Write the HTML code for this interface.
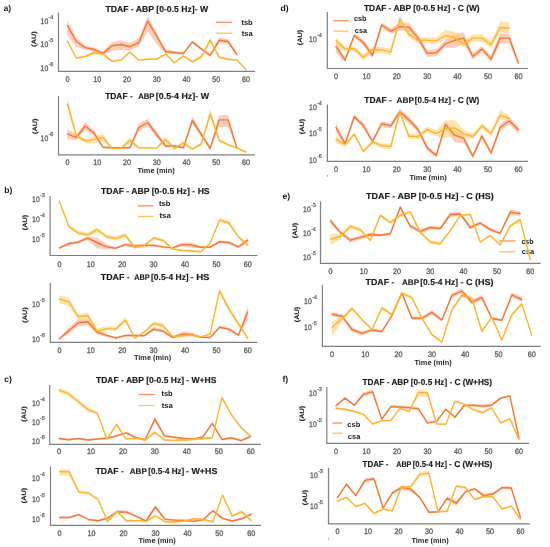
<!DOCTYPE html>
<html><head><meta charset="utf-8"><style>
html,body{margin:0;padding:0;background:#fff;width:550px;height:547px;overflow:hidden}
svg{display:block}
text{font-family:"Liberation Sans",sans-serif;text-rendering:geometricPrecision}
.tk{font-size:8.0px;fill:#585858;stroke:#585858;stroke-width:0.3px}
.ex{font-size:5.6px;fill:#585858;stroke:#585858;stroke-width:0.2px}
.au{font-size:6.4px;font-weight:bold;fill:#2a2a2a;stroke:#2a2a2a;stroke-width:0.15px}
.ti{font-size:8.6px;font-weight:bold;fill:#1a1a1a;stroke:#1a1a1a;stroke-width:0.15px}
.ti2{font-size:8.1px;font-weight:bold;fill:#1a1a1a;stroke:#1a1a1a;stroke-width:0.15px}
.lg{font-size:7.6px;font-weight:bold;fill:#1a1a1a}
.xl{font-size:7.4px;font-weight:bold;fill:#2a2a2a}
.pl{font-size:8.6px;font-weight:bold;fill:#1a1a1a}
</style></head><body>
<svg width="550" height="547" viewBox="0 0 550 547">
<defs><filter id="bl" x="0" y="0" width="1" height="1" color-interpolation-filters="sRGB"><feGaussianBlur stdDeviation="0.38"/></filter></defs>
<rect width="550" height="547" fill="#fff"/>
<g filter="url(#bl)">
<rect width="550" height="547" fill="#fff"/>
<g id="a1"><text x="241.8" y="36.3" class="lg" textLength="10.9" lengthAdjust="spacingAndGlyphs">tsa</text><text x="241.4" y="24.5" class="lg" textLength="11.3" lengthAdjust="spacingAndGlyphs">tsb</text><line x1="216.2" y1="33.2" x2="232" y2="33.2" stroke="#FDB52F" stroke-width="1.3" stroke-opacity="0.8"/><line x1="216.2" y1="22.3" x2="232" y2="22.3" stroke="#F8762F" stroke-width="1.3" stroke-opacity="0.8"/><polygon points="67.4,19.9 76.33,37.5 85.25,45.4 94.18,47.5 103.1,51.4 112.03,41.9 120.95,40.3 129.88,43 138.8,38.1 147.73,16.2 156.65,33.2 165.57,49.1 174.5,51 183.43,51.9 192.35,40.4 201.28,47.2 210.2,54 219.12,37.8 228.05,39 236.98,53.1 236.98,56.1 228.05,44 219.12,42.8 210.2,57 201.28,50.2 192.35,43.4 183.43,54.9 174.5,54 165.57,53.5 156.65,44.2 147.73,31.2 138.8,46 129.88,50.6 120.95,50 112.03,50.7 103.1,55.4 94.18,51.5 85.25,49.8 76.33,46.7 67.4,35.2" fill="#F6A487" fill-opacity="0.55"/><polygon points="67.4,40 76.33,57 85.25,55.5 94.18,50.5 103.1,52 112.03,60.4 120.95,59.1 129.88,51.3 138.8,59.1 147.73,58.3 156.65,58.3 165.57,53 174.5,61.7 183.43,54.9 192.35,60.8 201.28,54.8 210.2,37.8 219.12,56.2 228.05,58.3 236.98,59.1 245.9,68.5 245.9,70.5 236.98,61.1 228.05,60.3 219.12,58.2 210.2,42.8 201.28,58.8 192.35,62.8 183.43,56.9 174.5,63.7 165.57,55 156.65,60.3 147.73,60.3 138.8,61.1 129.88,53.3 120.95,61.1 112.03,62.4 103.1,56 94.18,54.5 85.25,57.5 76.33,59 67.4,42" fill="#FCD27A" fill-opacity="0.6"/><polyline points="67.4,25.6 76.33,41.5 85.25,47.6 94.18,49.5 103.1,53.4 112.03,45.7 120.95,44.5 129.88,46.8 138.8,42.5 147.73,21.2 156.65,36.2 165.57,51.7 174.5,52.5 183.43,53.4 192.35,41.9 201.28,48.7 210.2,55.5 219.12,40.3 228.05,41.5 236.98,54.6" fill="none" stroke="#F8762F" stroke-width="1.4" stroke-linejoin="round" stroke-linecap="round"/><polyline points="67.4,41 76.33,58 85.25,56.5 94.18,52.5 103.1,54 112.03,61.4 120.95,60.1 129.88,52.3 138.8,60.1 147.73,59.3 156.65,59.3 165.57,54 174.5,62.7 183.43,55.9 192.35,61.8 201.28,56.8 210.2,40.3 219.12,57.2 228.05,59.3 236.98,60.1 245.9,69.5" fill="none" stroke="#FDB52F" stroke-width="1.4" stroke-linejoin="round" stroke-linecap="round"/><path d="M58.5,12.5 V71.4 H255" fill="none" stroke="#7f7f7f" stroke-width="1.2"/><text x="65.4" y="81.5" class="tk" textLength="4" lengthAdjust="spacingAndGlyphs">0</text><text x="93.15" y="81.5" class="tk" textLength="8" lengthAdjust="spacingAndGlyphs">10</text><text x="122.9" y="81.5" class="tk" textLength="8" lengthAdjust="spacingAndGlyphs">20</text><text x="152.65" y="81.5" class="tk" textLength="8" lengthAdjust="spacingAndGlyphs">30</text><text x="182.4" y="81.5" class="tk" textLength="8" lengthAdjust="spacingAndGlyphs">40</text><text x="212.15" y="81.5" class="tk" textLength="8" lengthAdjust="spacingAndGlyphs">50</text><text x="241.9" y="81.5" class="tk" textLength="8" lengthAdjust="spacingAndGlyphs">60</text><text x="40.6" y="23.8" class="tk" textLength="7.6" lengthAdjust="spacingAndGlyphs">10</text><text x="48.5" y="18.8" class="ex">-4</text><text x="40.6" y="47.2" class="tk" textLength="7.6" lengthAdjust="spacingAndGlyphs">10</text><text x="48.5" y="42.2" class="ex">-5</text><text x="40.6" y="71.3" class="tk" textLength="7.6" lengthAdjust="spacingAndGlyphs">10</text><text x="48.5" y="66.3" class="ex">-6</text><text transform="translate(36.3,39) rotate(-90)" class="au" x="-7.7" textLength="15.4" lengthAdjust="spacingAndGlyphs">(AU)</text><text x="105.4" y="12.1" class="ti" textLength="102.8" lengthAdjust="spacingAndGlyphs" xml:space="preserve">TDAF - ABP [0-0.5 Hz]- W</text></g><g id="a2"><polygon points="67.4,128.9 76.33,134.7 85.25,122.3 94.18,130.5 103.1,146.3 112.03,146.7 120.95,146.7 129.88,146.7 138.8,123.5 147.73,119 156.65,131.5 165.57,144.5 174.5,145 183.43,146.7 192.35,116.5 201.28,132 210.2,147.5 219.12,114.9 228.05,114.9 236.98,146.9 236.98,148.9 228.05,126.9 219.12,126.9 210.2,149.5 201.28,137 192.35,123.7 183.43,148.7 174.5,147 165.57,147.5 156.65,137.5 147.73,126 138.8,131.5 129.88,148.7 120.95,148.7 112.03,148.7 103.1,148.3 94.18,136.1 85.25,129.7 76.33,140.3 67.4,138.9" fill="#F6A487" fill-opacity="0.55"/><polygon points="67.4,98 76.33,133.8 85.25,138.7 94.18,136.1 103.1,134 112.03,147.5 120.95,147.5 129.88,137.3 138.8,146.7 147.73,146.9 156.65,146.9 165.57,136.6 174.5,147.5 183.43,140.3 192.35,148 201.28,142.1 210.2,108.7 219.12,138.3 228.05,143.7 236.98,146.9 245.9,151 245.9,153 236.98,148.9 228.05,145.7 219.12,142.3 210.2,116.2 201.28,146.1 192.35,150 183.43,145.3 174.5,149.5 165.57,142.6 156.65,148.9 147.73,148.9 138.8,148.7 129.88,143.3 120.95,149.5 112.03,149.5 103.1,141 94.18,143.1 85.25,143.1 76.33,137.8 67.4,108" fill="#FCD27A" fill-opacity="0.6"/><polyline points="67.4,133.9 76.33,137.5 85.25,126 94.18,133.3 103.1,147.3 112.03,147.7 120.95,147.7 129.88,147.7 138.8,127.5 147.73,122.5 156.65,134.5 165.57,146 174.5,146 183.43,147.7 192.35,120.5 201.28,134.5 210.2,148.5 219.12,119.9 228.05,119.9 236.98,147.9" fill="none" stroke="#F8762F" stroke-width="1.4" stroke-linejoin="round" stroke-linecap="round"/><polyline points="67.4,104 76.33,135.8 85.25,140.9 94.18,139.6 103.1,137.5 112.03,148.5 120.95,148.5 129.88,140.3 138.8,147.7 147.73,147.9 156.65,147.9 165.57,139.6 174.5,148.5 183.43,142.8 192.35,149 201.28,144.1 210.2,114.2 219.12,140.3 228.05,144.7 236.98,147.9 245.9,152" fill="none" stroke="#FDB52F" stroke-width="1.4" stroke-linejoin="round" stroke-linecap="round"/><path d="M58.5,96 V154.8 H255" fill="none" stroke="#7f7f7f" stroke-width="1.2"/><text x="65.4" y="165" class="tk" textLength="4" lengthAdjust="spacingAndGlyphs">0</text><text x="93.15" y="165" class="tk" textLength="8" lengthAdjust="spacingAndGlyphs">10</text><text x="122.9" y="165" class="tk" textLength="8" lengthAdjust="spacingAndGlyphs">20</text><text x="152.65" y="165" class="tk" textLength="8" lengthAdjust="spacingAndGlyphs">30</text><text x="182.4" y="165" class="tk" textLength="8" lengthAdjust="spacingAndGlyphs">40</text><text x="212.15" y="165" class="tk" textLength="8" lengthAdjust="spacingAndGlyphs">50</text><text x="241.9" y="165" class="tk" textLength="8" lengthAdjust="spacingAndGlyphs">60</text><text x="40.6" y="140.6" class="tk" textLength="7.6" lengthAdjust="spacingAndGlyphs">10</text><text x="48.5" y="135.6" class="ex">-6</text><text transform="translate(37.3,126.3) rotate(-90)" class="au" x="-7.7" textLength="15.4" lengthAdjust="spacingAndGlyphs">(AU)</text><text x="105.2" y="99" class="ti" textLength="27.5" lengthAdjust="spacingAndGlyphs">TDAF -</text><text x="138.2" y="99" class="ti2" textLength="16.3" lengthAdjust="spacingAndGlyphs">ABP</text><text x="155.8" y="99" class="ti" textLength="53.2" lengthAdjust="spacingAndGlyphs">[0.5-4 Hz]- W</text><text x="156" y="172.5" class="xl" text-anchor="middle">Time (min)</text></g><g id="b1"><text x="159.5" y="217.7" class="lg" textLength="11.4" lengthAdjust="spacingAndGlyphs">tsa</text><text x="159.1" y="205.7" class="lg" textLength="11.4" lengthAdjust="spacingAndGlyphs">tsb</text><line x1="137.7" y1="216.5" x2="153.5" y2="216.5" stroke="#FDB52F" stroke-width="1.3" stroke-opacity="0.8"/><line x1="137.7" y1="205.9" x2="153.5" y2="205.9" stroke="#F8762F" stroke-width="1.3" stroke-opacity="0.8"/><polygon points="59.4,246.9 68.82,242.2 78.24,240.6 87.66,236.2 97.08,237.5 106.5,243.9 115.92,247.2 125.34,243.1 134.76,244.3 144.18,243.4 153.6,243.9 163.02,245.9 172.44,246.9 181.86,242.6 191.28,242.5 200.7,246.2 210.12,246.2 219.54,240.3 228.96,241 238.38,245.9 247.8,237.3 247.8,243.3 238.38,247.9 228.96,244 219.54,243.3 210.12,248.2 200.7,248.2 191.28,247.5 181.86,246.6 172.44,248.9 163.02,247.9 153.6,246.9 144.18,247.4 134.76,248.3 125.34,246.1 115.92,249.2 106.5,248.9 97.08,248.5 87.66,240.2 78.24,243.6 68.82,245.2 59.4,248.9" fill="#F6A487" fill-opacity="0.55"/><polygon points="59.4,200.3 68.82,225 78.24,230.7 87.66,232.8 97.08,227.2 106.5,234.5 115.92,236.6 125.34,232.7 134.76,246.5 144.18,244.6 153.6,236.5 163.02,239 172.44,247.8 181.86,249.5 191.28,250 200.7,250.7 210.12,242.3 219.54,217.9 228.96,221 238.38,235.2 247.8,242.5 247.8,247.5 238.38,238.2 228.96,225 219.54,221.9 210.12,244.3 200.7,252.7 191.28,252 181.86,251.5 172.44,249.8 163.02,242 153.6,239.5 144.18,246.6 134.76,248.5 125.34,237.7 115.92,240.6 106.5,238.5 97.08,232.2 87.66,236.8 78.24,235.1 68.82,228 59.4,202.3" fill="#FCD27A" fill-opacity="0.6"/><polyline points="59.4,247.9 68.82,243.7 78.24,242.1 87.66,238.2 97.08,242.5 106.5,246.9 115.92,248.2 125.34,244.6 134.76,246.3 144.18,245.4 153.6,245.4 163.02,246.9 172.44,247.9 181.86,244.6 191.28,245 200.7,247.2 210.12,247.2 219.54,241.8 228.96,242.5 238.38,246.9 247.8,240.3" fill="none" stroke="#F8762F" stroke-width="1.4" stroke-linejoin="round" stroke-linecap="round"/><polyline points="59.4,201.3 68.82,226.5 78.24,232.9 87.66,234.8 97.08,229.7 106.5,236.5 115.92,238.6 125.34,235.2 134.76,247.5 144.18,245.6 153.6,238 163.02,240.5 172.44,248.8 181.86,250.5 191.28,251 200.7,251.7 210.12,243.3 219.54,219.9 228.96,223 238.38,236.7 247.8,245" fill="none" stroke="#FDB52F" stroke-width="1.4" stroke-linejoin="round" stroke-linecap="round"/><path d="M50.1,196 V255.5 H257.4" fill="none" stroke="#7f7f7f" stroke-width="1.2"/><text x="57.4" y="267" class="tk" textLength="4" lengthAdjust="spacingAndGlyphs">0</text><text x="86.8" y="267" class="tk" textLength="8" lengthAdjust="spacingAndGlyphs">10</text><text x="118.2" y="267" class="tk" textLength="8" lengthAdjust="spacingAndGlyphs">20</text><text x="149.6" y="267" class="tk" textLength="8" lengthAdjust="spacingAndGlyphs">30</text><text x="181" y="267" class="tk" textLength="8" lengthAdjust="spacingAndGlyphs">40</text><text x="212.4" y="267" class="tk" textLength="8" lengthAdjust="spacingAndGlyphs">50</text><text x="243.8" y="267" class="tk" textLength="8" lengthAdjust="spacingAndGlyphs">60</text><text x="32.1" y="202" class="tk" textLength="7.6" lengthAdjust="spacingAndGlyphs">10</text><text x="40" y="197" class="ex">-3</text><text x="32.1" y="222" class="tk" textLength="7.6" lengthAdjust="spacingAndGlyphs">10</text><text x="40" y="217" class="ex">-4</text><text x="32.1" y="242" class="tk" textLength="7.6" lengthAdjust="spacingAndGlyphs">10</text><text x="40" y="237" class="ex">-5</text><text transform="translate(27.3,222.5) rotate(-90)" class="au" x="-7.7" textLength="15.4" lengthAdjust="spacingAndGlyphs">(AU)</text><text x="101" y="193.9" class="ti" textLength="108.6" lengthAdjust="spacingAndGlyphs" xml:space="preserve">TDAF - ABP [0-0.5 Hz] - HS</text></g><g id="b2"><polygon points="59.4,337.7 68.82,327.7 78.24,319.2 87.66,318.6 97.08,329.5 106.5,333.9 115.92,337 125.34,334.5 134.76,334.4 144.18,334.8 153.6,327.1 163.02,329.6 172.44,336.5 181.86,331.7 191.28,332.5 200.7,336.1 210.12,336.5 219.54,325.8 228.96,327.6 238.38,334.2 247.8,306 247.8,320 238.38,336.2 228.96,330.6 219.54,328.8 210.12,338.5 200.7,338.1 191.28,336.5 181.86,336.7 172.44,338.5 163.02,332.6 153.6,331.1 144.18,336.8 134.76,336.4 125.34,336.5 115.92,339 106.5,336.9 97.08,334.5 87.66,325 78.24,326.2 68.82,333.7 59.4,339.7" fill="#F6A487" fill-opacity="0.55"/><polygon points="59.4,295.7 68.82,297.3 78.24,314.2 87.66,312.5 97.08,328.1 106.5,326.6 115.92,327.1 125.34,316.7 134.76,337 144.18,331 153.6,321.5 163.02,323.1 172.44,335.5 181.86,334.8 191.28,333.9 200.7,336.1 210.12,332.9 219.54,288.4 228.96,306.6 238.38,321.2 247.8,337.4 247.8,339.4 238.38,326.2 228.96,311.6 219.54,293.4 210.12,334.9 200.7,338.1 191.28,335.9 181.86,336.8 172.44,337.5 163.02,328.1 153.6,325.5 144.18,333 134.76,339 125.34,321.7 115.92,331.1 106.5,330.6 97.08,334.1 87.66,318.5 78.24,319.2 68.82,306.3 59.4,303.3" fill="#FCD27A" fill-opacity="0.6"/><polyline points="59.4,338.7 68.82,330.7 78.24,322.7 87.66,321.8 97.08,332 106.5,335.4 115.92,338 125.34,335.5 134.76,335.4 144.18,335.8 153.6,329.1 163.02,331.1 172.44,337.5 181.86,334.2 191.28,334.5 200.7,337.1 210.12,337.5 219.54,327.3 228.96,329.1 238.38,335.2 247.8,312" fill="none" stroke="#F8762F" stroke-width="1.4" stroke-linejoin="round" stroke-linecap="round"/><polyline points="59.4,299.3 68.82,301.8 78.24,316.7 87.66,315.5 97.08,331.1 106.5,328.6 115.92,329.1 125.34,320.2 134.76,338 144.18,332 153.6,323.5 163.02,325.6 172.44,336.5 181.86,335.8 191.28,334.9 200.7,337.1 210.12,333.9 219.54,290.9 228.96,309.1 238.38,323.7 247.8,338.4" fill="none" stroke="#FDB52F" stroke-width="1.4" stroke-linejoin="round" stroke-linecap="round"/><path d="M50.3,283 V342.3 H257.4" fill="none" stroke="#7f7f7f" stroke-width="1.2"/><text x="57.4" y="353" class="tk" textLength="4" lengthAdjust="spacingAndGlyphs">0</text><text x="86.8" y="353" class="tk" textLength="8" lengthAdjust="spacingAndGlyphs">10</text><text x="118.2" y="353" class="tk" textLength="8" lengthAdjust="spacingAndGlyphs">20</text><text x="149.6" y="353" class="tk" textLength="8" lengthAdjust="spacingAndGlyphs">30</text><text x="181" y="353" class="tk" textLength="8" lengthAdjust="spacingAndGlyphs">40</text><text x="212.4" y="353" class="tk" textLength="8" lengthAdjust="spacingAndGlyphs">50</text><text x="243.8" y="353" class="tk" textLength="8" lengthAdjust="spacingAndGlyphs">60</text><text x="32.1" y="306.6" class="tk" textLength="7.6" lengthAdjust="spacingAndGlyphs">10</text><text x="40" y="301.6" class="ex">-5</text><text x="32.1" y="341.6" class="tk" textLength="7.6" lengthAdjust="spacingAndGlyphs">10</text><text x="40" y="336.6" class="ex">-6</text><text transform="translate(27.3,315) rotate(-90)" class="au" x="-7.7" textLength="15.4" lengthAdjust="spacingAndGlyphs">(AU)</text><text x="100.8" y="279.9" class="ti" textLength="29" lengthAdjust="spacingAndGlyphs">TDAF -</text><text x="134.2" y="279.9" class="ti2" textLength="15.3" lengthAdjust="spacingAndGlyphs">ABP</text><text x="151" y="279.9" class="ti" textLength="37.7" lengthAdjust="spacingAndGlyphs">[0.5-4 Hz]</text><text x="190.3" y="279.9" class="ti" textLength="19.2" lengthAdjust="spacingAndGlyphs">- HS</text><text x="152.5" y="359.9" class="xl" text-anchor="middle">Time (min)</text></g><g id="c1"><text x="161.8" y="407.5" class="lg" textLength="11.1" lengthAdjust="spacingAndGlyphs">tsa</text><text x="161.4" y="396.1" class="lg" textLength="11.3" lengthAdjust="spacingAndGlyphs">tsb</text><line x1="138.6" y1="405.5" x2="154.7" y2="405.5" stroke="#FDB52F" stroke-width="1.3" stroke-opacity="0.8"/><line x1="138.6" y1="394.5" x2="154.7" y2="394.5" stroke="#F8762F" stroke-width="1.3" stroke-opacity="0.8"/><polygon points="59,437.5 68.58,438.7 78.17,437.5 87.75,439 97.34,438.1 106.92,437.2 116.51,434.9 126.09,431.9 135.68,436.4 145.26,438.7 154.85,416.6 164.44,434.9 174.02,436.2 183.6,437.5 193.19,438.1 202.78,435.9 212.36,421.9 221.94,438.5 231.53,436.8 241.11,439.7 250.7,435.5 250.7,437.5 241.11,441.7 231.53,438.8 221.94,440.5 212.36,424.9 202.78,437.9 193.19,440.1 183.6,439.5 174.02,438.2 164.44,436.9 154.85,421.6 145.26,440.7 135.68,438.4 126.09,433.9 116.51,436.9 106.92,439.2 97.34,440.1 87.75,441 78.17,439.5 68.58,440.7 59,439.5" fill="#F6A487" fill-opacity="0.55"/><polygon points="59,387.6 68.58,391.2 78.17,399.5 87.75,406.9 97.34,411.8 106.92,438.1 116.51,423.5 126.09,438.1 135.68,437.2 145.26,439 154.85,430.8 164.44,439 174.02,439.4 183.6,439 193.19,438.5 202.78,437.5 212.36,436.8 221.94,396.2 231.53,413.4 241.11,426.1 250.7,435.5 250.7,437.5 241.11,429.1 231.53,416.4 221.94,399.2 212.36,438.8 202.78,439.5 193.19,440.5 183.6,441 174.02,441.4 164.44,441 154.85,433.8 145.26,441 135.68,439.2 126.09,440.1 116.51,425.5 106.92,440.1 97.34,414.8 87.75,411.9 78.17,403.5 68.58,396.2 59,392.6" fill="#FCD27A" fill-opacity="0.6"/><polyline points="59,438.5 68.58,439.7 78.17,438.5 87.75,440 97.34,439.1 106.92,438.2 116.51,435.9 126.09,432.9 135.68,437.4 145.26,439.7 154.85,419.1 164.44,435.9 174.02,437.2 183.6,438.5 193.19,439.1 202.78,436.9 212.36,423.4 221.94,439.5 231.53,437.8 241.11,440.7 250.7,436.5" fill="none" stroke="#F8762F" stroke-width="1.4" stroke-linejoin="round" stroke-linecap="round"/><polyline points="59,390.1 68.58,393.7 78.17,401.5 87.75,409.4 97.34,413.3 106.92,439.1 116.51,424.5 126.09,439.1 135.68,438.2 145.26,440 154.85,432.3 164.44,440 174.02,440.4 183.6,440 193.19,439.5 202.78,438.5 212.36,437.8 221.94,397.7 231.53,414.9 241.11,427.6 250.7,436.5" fill="none" stroke="#FDB52F" stroke-width="1.4" stroke-linejoin="round" stroke-linecap="round"/><path d="M49.7,385 V444.3 H260.8" fill="none" stroke="#7f7f7f" stroke-width="1.2"/><text x="57" y="454.2" class="tk" textLength="4" lengthAdjust="spacingAndGlyphs">0</text><text x="86.95" y="454.2" class="tk" textLength="8" lengthAdjust="spacingAndGlyphs">10</text><text x="118.9" y="454.2" class="tk" textLength="8" lengthAdjust="spacingAndGlyphs">20</text><text x="150.85" y="454.2" class="tk" textLength="8" lengthAdjust="spacingAndGlyphs">30</text><text x="182.8" y="454.2" class="tk" textLength="8" lengthAdjust="spacingAndGlyphs">40</text><text x="214.75" y="454.2" class="tk" textLength="8" lengthAdjust="spacingAndGlyphs">50</text><text x="246.7" y="454.2" class="tk" textLength="8" lengthAdjust="spacingAndGlyphs">60</text><text x="32.1" y="406.2" class="tk" textLength="7.6" lengthAdjust="spacingAndGlyphs">10</text><text x="40" y="401.2" class="ex">-4</text><text x="32.1" y="425" class="tk" textLength="7.6" lengthAdjust="spacingAndGlyphs">10</text><text x="40" y="420" class="ex">-5</text><text x="32.1" y="443.6" class="tk" textLength="7.6" lengthAdjust="spacingAndGlyphs">10</text><text x="40" y="438.6" class="ex">-6</text><text transform="translate(25.5,414) rotate(-90)" class="au" x="-7.7" textLength="15.4" lengthAdjust="spacingAndGlyphs">(AU)</text><text x="96" y="383.2" class="ti" textLength="120.4" lengthAdjust="spacingAndGlyphs" xml:space="preserve">TDAF - ABP [0-0.5 Hz] - W+HS</text></g><g id="c2"><polygon points="59.6,516.5 69.19,516.5 78.77,513.6 88.36,518.5 97.94,519.7 107.53,517.2 117.11,510.3 126.69,510.6 136.28,515.3 145.87,520 155.45,505 165.03,518.2 174.62,519.1 184.2,519.5 193.79,520.4 203.38,518.5 212.96,509.6 222.54,517.4 232.13,520 241.71,517.8 251.3,513.1 251.3,515.1 241.71,519.8 232.13,522 222.54,519.4 212.96,512 203.38,520.5 193.79,522.4 184.2,521.5 174.62,521.1 165.03,520.2 155.45,509 145.87,522 136.28,517.3 126.69,513.6 117.11,513.3 107.53,519.2 97.94,521.7 88.36,520.5 78.77,515.6 69.19,518.5 59.6,518.5" fill="#F6A487" fill-opacity="0.55"/><polygon points="59.6,469.2 69.19,469.2 78.77,490.6 88.36,491.5 97.94,498.3 107.53,520.4 117.11,510.6 126.69,520 136.28,519.5 145.87,520.4 155.45,514.9 165.03,520.7 174.62,521 184.2,520 193.79,517.8 203.38,518.5 212.96,520.7 222.54,494 232.13,514.9 241.71,509.8 251.3,519.7 251.3,521.7 241.71,513.8 232.13,516.9 222.54,496 212.96,522.7 203.38,520.5 193.79,519.8 184.2,522 174.62,523 165.03,522.7 155.45,516.9 145.87,522.4 136.28,521.5 126.69,522 117.11,512.6 107.53,522.4 97.94,500.3 88.36,494.5 78.77,493.6 69.19,475.5 59.6,475.5" fill="#FCD27A" fill-opacity="0.6"/><polyline points="59.6,517.5 69.19,517.5 78.77,514.6 88.36,519.5 97.94,520.7 107.53,518.2 117.11,511.8 126.69,512.1 136.28,516.3 145.87,521 155.45,507 165.03,519.2 174.62,520.1 184.2,520.5 193.79,521.4 203.38,519.5 212.96,510.8 222.54,518.4 232.13,521 241.71,518.8 251.3,514.1" fill="none" stroke="#F8762F" stroke-width="1.4" stroke-linejoin="round" stroke-linecap="round"/><polyline points="59.6,471.7 69.19,471.7 78.77,492.1 88.36,493 97.94,499.3 107.53,521.4 117.11,511.6 126.69,521 136.28,520.5 145.87,521.4 155.45,515.9 165.03,521.7 174.62,522 184.2,521 193.79,518.8 203.38,519.5 212.96,521.7 222.54,495 232.13,515.9 241.71,511.8 251.3,520.7" fill="none" stroke="#FDB52F" stroke-width="1.4" stroke-linejoin="round" stroke-linecap="round"/><path d="M50.5,466.6 V525.4 H261" fill="none" stroke="#7f7f7f" stroke-width="1.2"/><text x="57.6" y="535.6" class="tk" textLength="4" lengthAdjust="spacingAndGlyphs">0</text><text x="87.55" y="535.6" class="tk" textLength="8" lengthAdjust="spacingAndGlyphs">10</text><text x="119.5" y="535.6" class="tk" textLength="8" lengthAdjust="spacingAndGlyphs">20</text><text x="151.45" y="535.6" class="tk" textLength="8" lengthAdjust="spacingAndGlyphs">30</text><text x="183.4" y="535.6" class="tk" textLength="8" lengthAdjust="spacingAndGlyphs">40</text><text x="215.35" y="535.6" class="tk" textLength="8" lengthAdjust="spacingAndGlyphs">50</text><text x="247.3" y="535.6" class="tk" textLength="8" lengthAdjust="spacingAndGlyphs">60</text><text x="32.1" y="481.2" class="tk" textLength="7.6" lengthAdjust="spacingAndGlyphs">10</text><text x="40" y="476.2" class="ex">-4</text><text x="32.1" y="502" class="tk" textLength="7.6" lengthAdjust="spacingAndGlyphs">10</text><text x="40" y="497" class="ex">-5</text><text x="32.1" y="522" class="tk" textLength="7.6" lengthAdjust="spacingAndGlyphs">10</text><text x="40" y="517" class="ex">-6</text><text transform="translate(26.3,495.5) rotate(-90)" class="au" x="-7.7" textLength="15.4" lengthAdjust="spacingAndGlyphs">(AU)</text><text x="95.5" y="473.6" class="ti" textLength="28.4" lengthAdjust="spacingAndGlyphs">TDAF -</text><text x="129.8" y="473.6" class="ti2" textLength="17" lengthAdjust="spacingAndGlyphs">ABP</text><text x="148.3" y="473.6" class="ti" textLength="35.9" lengthAdjust="spacingAndGlyphs">[0.5-4 Hz]</text><text x="186.1" y="473.6" class="ti" textLength="31.2" lengthAdjust="spacingAndGlyphs">- W+HS</text><text x="157" y="543.1" class="xl" text-anchor="middle">Time (min)</text></g><g id="d1"><text x="354.8" y="32.7" class="lg" textLength="12.3" lengthAdjust="spacingAndGlyphs">csa</text><text x="353.9" y="21.4" class="lg" textLength="12.7" lengthAdjust="spacingAndGlyphs">csb</text><line x1="333.5" y1="31.2" x2="348.5" y2="31.2" stroke="#FDB52F" stroke-width="1.3" stroke-opacity="0.8"/><line x1="333.5" y1="20.7" x2="348.5" y2="20.7" stroke="#F8762F" stroke-width="1.3" stroke-opacity="0.8"/><polygon points="336,41.9 345.12,57.6 354.24,33.5 363.36,39.5 372.48,52.3 381.6,22.5 390.72,28.1 399.84,22.6 408.96,22.8 418.08,35.1 427.2,49.9 436.32,49.2 445.44,40.3 454.56,33.3 463.68,32.6 472.8,53.5 481.92,45.9 491.04,56.1 500.16,33.6 509.28,33.6 518.4,60.9 518.4,64.9 509.28,43.6 500.16,43.6 491.04,62.1 481.92,51.9 472.8,59.5 463.68,43.6 454.56,48.3 445.44,47.3 436.32,56.2 427.2,56.9 418.08,41.1 408.96,31.8 399.84,30.6 390.72,34.1 381.6,27.5 372.48,58.3 363.36,45.5 354.24,37.5 345.12,62.6 336,52.6" fill="#F6A487" fill-opacity="0.55"/><polygon points="336,37.6 345.12,46.4 354.24,46.2 363.36,54.2 372.48,46.5 381.6,46.9 390.72,48.6 399.84,16 408.96,31.3 418.08,37.3 427.2,37.3 436.32,37.6 445.44,29.5 454.56,32 463.68,41.5 472.8,34.6 481.92,34.6 491.04,41.3 500.16,21.5 509.28,22.3 509.28,33.3 500.16,32.5 491.04,48.3 481.92,41.6 472.8,41.6 463.68,47.5 454.56,43 445.44,39.5 436.32,43.6 427.2,43.3 418.08,43.3 408.96,37.3 399.84,22 390.72,55.6 381.6,52.9 372.48,52.5 363.36,60.2 354.24,51.2 345.12,51.4 336,45.6" fill="#FCD27A" fill-opacity="0.6"/><polyline points="336,46.6 345.12,60.1 354.24,35.5 363.36,42.5 372.48,55.3 381.6,25 390.72,31.1 399.84,26.6 408.96,27.3 418.08,38.1 427.2,53.4 436.32,52.7 445.44,43.8 454.56,40.3 463.68,38.1 472.8,56.5 481.92,48.9 491.04,59.1 500.16,38.1 509.28,38.1 518.4,62.9" fill="none" stroke="#F8762F" stroke-width="1.4" stroke-linejoin="round" stroke-linecap="round"/><polyline points="336,40.6 345.12,48.9 354.24,48.7 363.36,57.2 372.48,49.5 381.6,49.9 390.72,52.1 399.84,19 408.96,34.3 418.08,40.3 427.2,40.3 436.32,40.6 445.44,35.5 454.56,37.5 463.68,44.5 472.8,38.1 481.92,38.1 491.04,44.8 500.16,27.5 509.28,28.3" fill="none" stroke="#FDB52F" stroke-width="1.4" stroke-linejoin="round" stroke-linecap="round"/><path d="M327.3,12 V68.5 H528" fill="none" stroke="#7f7f7f" stroke-width="1.2"/><text x="334" y="79" class="tk" textLength="4" lengthAdjust="spacingAndGlyphs">0</text><text x="362.4" y="79" class="tk" textLength="8" lengthAdjust="spacingAndGlyphs">10</text><text x="392.8" y="79" class="tk" textLength="8" lengthAdjust="spacingAndGlyphs">20</text><text x="423.2" y="79" class="tk" textLength="8" lengthAdjust="spacingAndGlyphs">30</text><text x="453.6" y="79" class="tk" textLength="8" lengthAdjust="spacingAndGlyphs">40</text><text x="484" y="79" class="tk" textLength="8" lengthAdjust="spacingAndGlyphs">50</text><text x="514.4" y="79" class="tk" textLength="8" lengthAdjust="spacingAndGlyphs">60</text><text x="309.1" y="41.6" class="tk" textLength="7.6" lengthAdjust="spacingAndGlyphs">10</text><text x="317" y="36.6" class="ex">-4</text><text transform="translate(302.3,37.5) rotate(-90)" class="au" x="-7.7" textLength="15.4" lengthAdjust="spacingAndGlyphs">(AU)</text><text x="364" y="11" class="ti" textLength="115.6" lengthAdjust="spacingAndGlyphs" xml:space="preserve">TDAF - ABP [0-0.5 Hz] - C (W)</text></g><g id="d2"><polygon points="336,123 345.12,141.7 354.24,114.2 363.36,122.6 372.48,139.5 381.6,121.2 390.72,123.4 399.84,108.4 408.96,116.4 418.08,126.5 427.2,145.4 436.32,153.5 445.44,120.9 454.56,130.7 463.68,134.3 472.8,154.2 481.92,133.6 491.04,151 500.16,124 509.28,117.3 518.4,126.6 518.4,133.6 509.28,124.3 500.16,131 491.04,155 481.92,138.6 472.8,158.2 463.68,143.3 454.56,142.2 445.44,127.9 436.32,157.5 427.2,150.4 418.08,132.5 408.96,123.4 399.84,115.4 390.72,128.4 381.6,126.2 372.48,143.5 363.36,128.6 354.24,119.2 345.12,145.7 336,132.5" fill="#F6A487" fill-opacity="0.55"/><polygon points="336,135.9 345.12,142 354.24,132.8 363.36,149.8 372.48,139.9 381.6,143.2 390.72,143.6 399.84,110.3 408.96,134 418.08,134 427.2,126.5 436.32,130.3 445.44,120.8 454.56,119.4 463.68,130.1 472.8,133.5 481.92,122.9 491.04,131 500.16,110.2 509.28,115.3 509.28,121.3 500.16,119.2 491.04,136 481.92,128.9 472.8,139.5 463.68,137.1 454.56,136.9 445.44,137.8 436.32,136.3 427.2,132.5 418.08,139 408.96,139 399.84,114.3 390.72,149.6 381.6,148.2 372.48,143.9 363.36,152.8 354.24,135.8 345.12,147 336,142.9" fill="#FCD27A" fill-opacity="0.6"/><polyline points="336,127.5 345.12,143.7 354.24,116.7 363.36,125.6 372.48,141.5 381.6,123.7 390.72,125.9 399.84,111.9 408.96,119.9 418.08,129.5 427.2,147.9 436.32,155.5 445.44,124.4 454.56,135.2 463.68,138.3 472.8,156.2 481.92,136.1 491.04,153 500.16,127.5 509.28,120.8 518.4,130.1" fill="none" stroke="#F8762F" stroke-width="1.4" stroke-linejoin="round" stroke-linecap="round"/><polyline points="336,139.4 345.12,144.5 354.24,134.3 363.36,151.3 372.48,141.9 381.6,145.7 390.72,146.6 399.84,112.3 408.96,136.5 418.08,136.5 427.2,129.5 436.32,133.3 445.44,128.8 454.56,127.9 463.68,133.6 472.8,136.5 481.92,125.9 491.04,133.5 500.16,115.2 509.28,118.3" fill="none" stroke="#FDB52F" stroke-width="1.4" stroke-linejoin="round" stroke-linecap="round"/><path d="M327.4,104.6 V161.3 H528" fill="none" stroke="#7f7f7f" stroke-width="1.2"/><text x="334" y="171.6" class="tk" textLength="4" lengthAdjust="spacingAndGlyphs">0</text><text x="362.4" y="171.6" class="tk" textLength="8" lengthAdjust="spacingAndGlyphs">10</text><text x="392.8" y="171.6" class="tk" textLength="8" lengthAdjust="spacingAndGlyphs">20</text><text x="423.2" y="171.6" class="tk" textLength="8" lengthAdjust="spacingAndGlyphs">30</text><text x="453.6" y="171.6" class="tk" textLength="8" lengthAdjust="spacingAndGlyphs">40</text><text x="484" y="171.6" class="tk" textLength="8" lengthAdjust="spacingAndGlyphs">50</text><text x="514.4" y="171.6" class="tk" textLength="8" lengthAdjust="spacingAndGlyphs">60</text><text x="309.1" y="110" class="tk" textLength="7.6" lengthAdjust="spacingAndGlyphs">10</text><text x="317" y="105" class="ex">-4</text><text x="309.1" y="136" class="tk" textLength="7.6" lengthAdjust="spacingAndGlyphs">10</text><text x="317" y="131" class="ex">-5</text><text x="309.1" y="162.6" class="tk" textLength="7.6" lengthAdjust="spacingAndGlyphs">10</text><text x="317" y="157.6" class="ex">-6</text><text transform="translate(304.3,126.5) rotate(-90)" class="au" x="-7.7" textLength="15.4" lengthAdjust="spacingAndGlyphs">(AU)</text><text x="364.3" y="103.2" class="ti" textLength="27.6" lengthAdjust="spacingAndGlyphs">TDAF -</text><text x="396.6" y="103.2" class="ti2" textLength="17.3" lengthAdjust="spacingAndGlyphs">ABP</text><text x="414.8" y="103.2" class="ti" textLength="36.2" lengthAdjust="spacingAndGlyphs">[0.5-4 Hz]</text><text x="452.7" y="103.2" class="ti" textLength="26.7" lengthAdjust="spacingAndGlyphs">- C (W)</text><text x="428" y="179.5" class="xl" text-anchor="middle">Time (min)</text></g><g id="e1"><text x="521.8" y="254.3" class="lg" textLength="12.3" lengthAdjust="spacingAndGlyphs">csa</text><text x="521.4" y="243.6" class="lg" textLength="12.2" lengthAdjust="spacingAndGlyphs">csb</text><line x1="499.1" y1="251.8" x2="515.5" y2="251.8" stroke="#FDB52F" stroke-width="1.3" stroke-opacity="0.8"/><line x1="499.1" y1="240.9" x2="515.5" y2="240.9" stroke="#F8762F" stroke-width="1.3" stroke-opacity="0.8"/><polygon points="330.4,218 340.39,231 350.38,238 360.37,235.4 370.36,232.5 380.35,233.8 390.34,232.2 400.33,205.6 410.32,224.2 420.31,229.5 430.3,225.5 440.29,227 450.28,212.3 460.27,212 470.26,225.5 480.25,221.6 490.24,227.6 500.23,231.8 510.22,209.7 520.21,211.1 520.21,216.1 510.22,214.7 500.23,234.8 490.24,231.6 480.25,224.6 470.26,229.5 460.27,216 450.28,216.7 440.29,230 430.3,229.5 420.31,233.5 410.32,228.2 400.33,208.6 390.34,235.2 380.35,236.8 370.36,236.5 360.37,239.4 350.38,242.4 340.39,234 330.4,223.6" fill="#F6A487" fill-opacity="0.55"/><polygon points="330.4,233.9 340.39,233.4 350.38,224.2 360.37,228 370.36,239.2 380.35,213.9 390.34,220.9 400.33,213.9 410.32,210.4 420.31,231 430.3,240.1 440.29,241.7 450.28,229.6 460.27,214.4 470.26,213.4 480.25,241 490.24,234.5 500.23,243.9 510.22,224 520.21,218.2 530.2,258.5 530.2,260.5 520.21,221.2 510.22,228 500.23,245.9 490.24,236.5 480.25,243 470.26,215.4 460.27,216.4 450.28,231.6 440.29,245.7 430.3,244.1 420.31,234 410.32,213.4 400.33,216.9 390.34,223.9 380.35,216.9 370.36,241.2 360.37,232 350.38,228.2 340.39,239.4 330.4,245.2" fill="#FCD27A" fill-opacity="0.6"/><polyline points="330.4,220.8 340.39,232.5 350.38,240.2 360.37,237.4 370.36,234.5 380.35,235.3 390.34,233.7 400.33,207.1 410.32,226.2 420.31,231.5 430.3,227.5 440.29,228.5 450.28,214.5 460.27,214 470.26,227.5 480.25,223.1 490.24,229.6 500.23,233.3 510.22,212.2 520.21,213.6" fill="none" stroke="#F8762F" stroke-width="1.4" stroke-linejoin="round" stroke-linecap="round"/><polyline points="330.4,239.2 340.39,236.4 350.38,226.2 360.37,230 370.36,240.2 380.35,215.4 390.34,222.4 400.33,215.4 410.32,211.9 420.31,232.5 430.3,242.1 440.29,243.7 450.28,230.6 460.27,215.4 470.26,214.4 480.25,242 490.24,235.5 500.23,244.9 510.22,226 520.21,219.7 530.2,259.5" fill="none" stroke="#FDB52F" stroke-width="1.4" stroke-linejoin="round" stroke-linecap="round"/><path d="M320.5,201.6 V263.3 H540.7" fill="none" stroke="#7f7f7f" stroke-width="1.2"/><text x="328.4" y="274.4" class="tk" textLength="4" lengthAdjust="spacingAndGlyphs">0</text><text x="359.7" y="274.4" class="tk" textLength="8" lengthAdjust="spacingAndGlyphs">10</text><text x="393" y="274.4" class="tk" textLength="8" lengthAdjust="spacingAndGlyphs">20</text><text x="426.3" y="274.4" class="tk" textLength="8" lengthAdjust="spacingAndGlyphs">30</text><text x="459.6" y="274.4" class="tk" textLength="8" lengthAdjust="spacingAndGlyphs">40</text><text x="492.9" y="274.4" class="tk" textLength="8" lengthAdjust="spacingAndGlyphs">50</text><text x="526.2" y="274.4" class="tk" textLength="8" lengthAdjust="spacingAndGlyphs">60</text><text x="303.1" y="211.6" class="tk" textLength="7.6" lengthAdjust="spacingAndGlyphs">10</text><text x="311" y="206.6" class="ex">-3</text><text x="303.1" y="235.6" class="tk" textLength="7.6" lengthAdjust="spacingAndGlyphs">10</text><text x="311" y="230.6" class="ex">-4</text><text x="303.1" y="259.6" class="tk" textLength="7.6" lengthAdjust="spacingAndGlyphs">10</text><text x="311" y="254.6" class="ex">-5</text><text transform="translate(297.3,230.5) rotate(-90)" class="au" x="-7.7" textLength="15.4" lengthAdjust="spacingAndGlyphs">(AU)</text><text x="366" y="199.1" class="ti" textLength="127.7" lengthAdjust="spacingAndGlyphs" xml:space="preserve">TDAF - ABP [0-0.5 Hz] - C (HS)</text></g><g id="e2"><polygon points="332,312.3 341.99,314.2 351.98,327 361.97,331.4 371.96,328.3 381.95,330 391.94,314 401.93,291.4 411.92,316.3 421.91,316.8 431.9,309.9 441.89,318.5 451.88,292.9 461.87,288.6 471.86,299.7 481.85,294.9 491.84,317 501.83,318.7 511.82,292.4 521.81,297 521.81,302 511.82,297.4 501.83,321.7 491.84,320 481.85,299.9 471.86,304.7 461.87,293.6 451.88,297.9 441.89,321.5 431.9,314.9 421.91,319.8 411.92,320.3 401.93,294.4 391.94,317 381.95,333 371.96,331.3 361.97,335.4 351.98,332 341.99,318.2 332,316.3" fill="#F6A487" fill-opacity="0.55"/><polygon points="332,321.6 341.99,316.2 351.98,306.5 361.97,317.9 371.96,328.5 381.95,305.9 391.94,313.2 401.93,291.8 411.92,295.7 421.91,317.1 431.9,333.6 441.89,341 451.88,309 461.87,294 471.86,296.4 481.85,329.3 491.84,316.3 501.83,339 511.82,312.8 521.81,302.4 531.8,334.2 531.8,336.2 521.81,305.4 511.82,316.8 501.83,341 491.84,318.3 481.85,333.3 471.86,300.4 461.87,297 451.88,311 441.89,343 431.9,335.6 421.91,319.1 411.92,299.7 401.93,294.8 391.94,316.2 381.95,309.9 371.96,330.5 361.97,320.9 351.98,310.5 341.99,321.2 332,336.6" fill="#FCD27A" fill-opacity="0.6"/><polyline points="332,314.3 341.99,316.2 351.98,329.5 361.97,333.4 371.96,329.8 381.95,331.5 391.94,315.5 401.93,292.9 411.92,318.3 421.91,318.3 431.9,312.4 441.89,320 451.88,295.4 461.87,291.1 471.86,302.2 481.85,297.4 491.84,318.5 501.83,320.2 511.82,294.9 521.81,299.5" fill="none" stroke="#F8762F" stroke-width="1.4" stroke-linejoin="round" stroke-linecap="round"/><polyline points="332,327.6 341.99,318.7 351.98,308.5 361.97,319.4 371.96,329.5 381.95,307.9 391.94,314.7 401.93,293.3 411.92,297.7 421.91,318.1 431.9,334.6 441.89,342 451.88,310 461.87,295.5 471.86,298.4 481.85,331.3 491.84,317.3 501.83,340 511.82,314.8 521.81,303.9 531.8,335.2" fill="none" stroke="#FDB52F" stroke-width="1.4" stroke-linejoin="round" stroke-linecap="round"/><path d="M322.4,285 V346.4 H540.7" fill="none" stroke="#7f7f7f" stroke-width="1.2"/><text x="330" y="357.2" class="tk" textLength="4" lengthAdjust="spacingAndGlyphs">0</text><text x="361.3" y="357.2" class="tk" textLength="8" lengthAdjust="spacingAndGlyphs">10</text><text x="394.6" y="357.2" class="tk" textLength="8" lengthAdjust="spacingAndGlyphs">20</text><text x="427.9" y="357.2" class="tk" textLength="8" lengthAdjust="spacingAndGlyphs">30</text><text x="461.2" y="357.2" class="tk" textLength="8" lengthAdjust="spacingAndGlyphs">40</text><text x="494.5" y="357.2" class="tk" textLength="8" lengthAdjust="spacingAndGlyphs">50</text><text x="527.8" y="357.2" class="tk" textLength="8" lengthAdjust="spacingAndGlyphs">60</text><text x="304.1" y="303.6" class="tk" textLength="7.6" lengthAdjust="spacingAndGlyphs">10</text><text x="312" y="298.6" class="ex">-4</text><text x="304.1" y="329.6" class="tk" textLength="7.6" lengthAdjust="spacingAndGlyphs">10</text><text x="312" y="324.6" class="ex">-5</text><text transform="translate(299.3,314.5) rotate(-90)" class="au" x="-7.7" textLength="15.4" lengthAdjust="spacingAndGlyphs">(AU)</text><text x="365.6" y="284.7" class="ti" textLength="28.8" lengthAdjust="spacingAndGlyphs">TDAF -</text><text x="402" y="284.7" class="ti2" textLength="17" lengthAdjust="spacingAndGlyphs">ABP</text><text x="420.3" y="284.7" class="ti" textLength="37.7" lengthAdjust="spacingAndGlyphs">[0.5-4 Hz]</text><text x="460.5" y="284.7" class="ti" textLength="33.1" lengthAdjust="spacingAndGlyphs">- C (HS)</text><text x="433" y="364.5" class="xl" text-anchor="middle">Time (min)</text></g><g id="f1"><text x="347.8" y="438.8" class="lg" textLength="12.5" lengthAdjust="spacingAndGlyphs">csa</text><text x="347.3" y="427.3" class="lg" textLength="13" lengthAdjust="spacingAndGlyphs">csb</text><line x1="332.5" y1="433.2" x2="342.1" y2="433.2" stroke="#FDB52F" stroke-width="1.3" stroke-opacity="0.8"/><line x1="332.5" y1="423" x2="342.1" y2="423" stroke="#F8762F" stroke-width="1.3" stroke-opacity="0.8"/><polygon points="336,404.7 345.15,397.1 354.3,404.3 363.45,392.3 372.6,389.7 381.75,418.1 390.9,405.1 400.05,405.5 409.2,406.1 418.35,407.2 427.5,421.9 436.65,420.4 445.8,408.2 454.95,416.2 464.1,404.5 473.25,404.3 482.4,404.1 491.55,403.8 500.7,397.1 509.85,394.7 519,437.2 519,439.2 509.85,397.1 500.7,399.1 491.55,406.8 482.4,408.1 473.25,406.3 464.1,406.5 454.95,418.2 445.8,410.2 436.65,422.4 427.5,423.9 418.35,410.2 409.2,409.1 400.05,408.5 390.9,408.1 381.75,420.1 372.6,393.7 363.45,396.3 354.3,406.3 345.15,399.1 336,406.7" fill="#F6A487" fill-opacity="0.55"/><polygon points="336,406.8 345.15,408.2 354.3,410.5 363.45,413.3 372.6,422.9 381.75,419.8 390.9,419.4 400.05,407.3 409.2,410.5 418.35,389.9 427.5,390.5 436.65,422.9 445.8,423.2 454.95,400.3 464.1,403.2 473.25,408.5 482.4,411.2 491.55,406.9 500.7,421.9 509.85,417.8 519,438.5 519,440.5 509.85,419.8 500.7,423.9 491.55,408.9 482.4,414.2 473.25,410.5 464.1,405.2 454.95,402.3 445.8,425.2 436.65,424.9 427.5,397 418.35,396.4 409.2,412.5 400.05,409.3 390.9,421.4 381.75,421.8 372.6,424.9 363.45,415.3 354.3,412.5 345.15,410.2 336,409.8" fill="#FCD27A" fill-opacity="0.6"/><polyline points="336,405.7 345.15,398.1 354.3,405.3 363.45,394.3 372.6,391.7 381.75,419.1 390.9,406.6 400.05,407 409.2,407.6 418.35,408.7 427.5,422.9 436.65,421.4 445.8,409.2 454.95,417.2 464.1,405.5 473.25,405.3 482.4,406.1 491.55,405.3 500.7,398.1 509.85,395.9 519,438.2" fill="none" stroke="#F8762F" stroke-width="1.4" stroke-linejoin="round" stroke-linecap="round"/><polyline points="336,408.3 345.15,409.2 354.3,411.5 363.45,414.3 372.6,423.9 381.75,420.8 390.9,420.4 400.05,408.3 409.2,411.5 418.35,392.4 427.5,393 436.65,423.9 445.8,424.2 454.95,401.3 464.1,404.2 473.25,409.5 482.4,412.7 491.55,407.9 500.7,422.9 509.85,418.8 519,439.5" fill="none" stroke="#FDB52F" stroke-width="1.4" stroke-linejoin="round" stroke-linecap="round"/><path d="M326.8,387 V443.3 H529" fill="none" stroke="#7f7f7f" stroke-width="1.2"/><text x="334" y="453.5" class="tk" textLength="4" lengthAdjust="spacingAndGlyphs">0</text><text x="362.5" y="453.5" class="tk" textLength="8" lengthAdjust="spacingAndGlyphs">10</text><text x="393" y="453.5" class="tk" textLength="8" lengthAdjust="spacingAndGlyphs">20</text><text x="423.5" y="453.5" class="tk" textLength="8" lengthAdjust="spacingAndGlyphs">30</text><text x="454" y="453.5" class="tk" textLength="8" lengthAdjust="spacingAndGlyphs">40</text><text x="484.5" y="453.5" class="tk" textLength="8" lengthAdjust="spacingAndGlyphs">50</text><text x="515" y="453.5" class="tk" textLength="8" lengthAdjust="spacingAndGlyphs">60</text><text x="309.1" y="395.6" class="tk" textLength="7.6" lengthAdjust="spacingAndGlyphs">10</text><text x="317" y="390.6" class="ex">-3</text><text x="309.1" y="426.6" class="tk" textLength="7.6" lengthAdjust="spacingAndGlyphs">10</text><text x="317" y="421.6" class="ex">-5</text><text transform="translate(304.3,413.5) rotate(-90)" class="au" x="-7.7" textLength="15.4" lengthAdjust="spacingAndGlyphs">(AU)</text><text x="362.6" y="384.6" class="ti" textLength="129.4" lengthAdjust="spacingAndGlyphs" xml:space="preserve">TDAF - ABP [0-0.5 Hz] - C (W+HS)</text></g><g id="f2"><polygon points="337.4,496.8 346.55,483.2 355.7,494.6 364.85,478.4 374,476.7 383.15,507 392.3,491.6 401.45,485.6 410.6,486.4 419.75,496.5 428.9,511.2 438.05,510.8 447.2,496.7 456.35,500.8 465.5,490.8 474.65,487.9 483.8,493.6 492.95,492.5 502.1,486.1 511.25,486.5 520.4,516.3 520.4,518.3 511.25,489.5 502.1,489.1 492.95,495.5 483.8,497.6 474.65,489.9 465.5,492.8 456.35,505.8 447.2,499.7 438.05,512.8 428.9,513.2 419.75,498.5 410.6,491.4 401.45,489.6 392.3,494.6 383.15,509 374,480.7 364.85,482.4 355.7,496.6 346.55,485.2 337.4,498.8" fill="#F6A487" fill-opacity="0.55"/><polygon points="337.4,500.1 346.55,496.3 355.7,505.5 364.85,502.3 374,512.5 383.15,508 392.3,509.9 401.45,485.7 410.6,485.7 419.75,471.9 428.9,470.6 438.05,510.8 447.2,510.3 456.35,484.6 465.5,486.1 474.65,498.5 483.8,495.5 492.95,495.9 502.1,508 511.25,505.2 520.4,518.2 520.4,520.2 511.25,507.2 502.1,510 492.95,497.9 483.8,497.5 474.65,500.5 465.5,489.1 456.35,487.6 447.2,512.3 438.05,512.8 428.9,475.6 419.75,476.9 410.6,487.7 401.45,487.7 392.3,511.9 383.15,510 374,514.5 364.85,504.3 355.7,507.5 346.55,498.3 337.4,502.1" fill="#FCD27A" fill-opacity="0.6"/><polyline points="337.4,497.8 346.55,484.2 355.7,495.6 364.85,480.4 374,478.7 383.15,508 392.3,493.1 401.45,487.6 410.6,488.9 419.75,497.5 428.9,512.2 438.05,511.8 447.2,498.2 456.35,503.3 465.5,491.8 474.65,488.9 483.8,495.6 492.95,494 502.1,487.6 511.25,488 520.4,517.3" fill="none" stroke="#F8762F" stroke-width="1.4" stroke-linejoin="round" stroke-linecap="round"/><polyline points="337.4,501.1 346.55,497.3 355.7,506.5 364.85,503.3 374,513.5 383.15,509 392.3,510.9 401.45,486.7 410.6,486.7 419.75,474.4 428.9,473.1 438.05,511.8 447.2,511.3 456.35,486.1 465.5,487.6 474.65,499.5 483.8,496.5 492.95,496.9 502.1,509 511.25,506.2 520.4,519.2" fill="none" stroke="#FDB52F" stroke-width="1.4" stroke-linejoin="round" stroke-linecap="round"/><path d="M328.5,468 V523.8 H530" fill="none" stroke="#7f7f7f" stroke-width="1.2"/><text x="335.4" y="534.2" class="tk" textLength="4" lengthAdjust="spacingAndGlyphs">0</text><text x="363.9" y="534.2" class="tk" textLength="8" lengthAdjust="spacingAndGlyphs">10</text><text x="394.4" y="534.2" class="tk" textLength="8" lengthAdjust="spacingAndGlyphs">20</text><text x="424.9" y="534.2" class="tk" textLength="8" lengthAdjust="spacingAndGlyphs">30</text><text x="455.4" y="534.2" class="tk" textLength="8" lengthAdjust="spacingAndGlyphs">40</text><text x="485.9" y="534.2" class="tk" textLength="8" lengthAdjust="spacingAndGlyphs">50</text><text x="516.4" y="534.2" class="tk" textLength="8" lengthAdjust="spacingAndGlyphs">60</text><text x="310.1" y="477.6" class="tk" textLength="7.6" lengthAdjust="spacingAndGlyphs">10</text><text x="318" y="472.6" class="ex">-3</text><text x="310.1" y="508.6" class="tk" textLength="7.6" lengthAdjust="spacingAndGlyphs">10</text><text x="318" y="503.6" class="ex">-5</text><text transform="translate(307.3,497.5) rotate(-90)" class="au" x="-7.7" textLength="15.4" lengthAdjust="spacingAndGlyphs">(AU)</text><text x="362.6" y="467.2" class="ti" textLength="25.9" lengthAdjust="spacingAndGlyphs">TDAF -</text><text x="396.2" y="467.2" class="ti2" textLength="15.2" lengthAdjust="spacingAndGlyphs">ABP</text><text x="412.7" y="467.2" class="ti" textLength="34.3" lengthAdjust="spacingAndGlyphs">[0.5-4 Hz]</text><text x="449.1" y="467.2" class="ti" textLength="43.3" lengthAdjust="spacingAndGlyphs">- C (W+HS)</text><text x="430" y="542.5" class="xl" text-anchor="middle">Time (min)</text></g>
<text x="3.6" y="11.4" class="pl">a)</text><text x="4.2" y="193.4" class="pl">b)</text><text x="4.2" y="382.1" class="pl">c)</text><text x="280.4" y="11.2" class="pl">d)</text><text x="282.4" y="198.6" class="pl">e)</text><text x="282.4" y="382.2" class="pl">f)</text>
<rect x="326.9" y="175" width="0.9" height="1.8" fill="#999"/><rect x="328.2" y="537.8" width="0.9" height="1.8" fill="#999"/>
</g>
</svg>
</body></html>
